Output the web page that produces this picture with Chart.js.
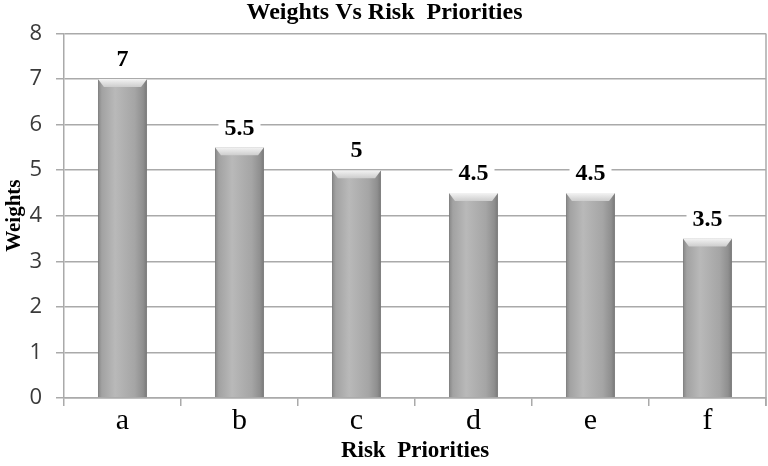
<!DOCTYPE html>
<html>
<head>
<meta charset="utf-8">
<script src="https://cdn.jsdelivr.net/npm/chart.js@4"></script>
<style>
  html, body { margin: 0; padding: 0; background: #fff; }
  #wrap { width: 768px; height: 466px; }
</style>
</head>
<body>
<div id="wrap"><canvas id="myChart"></canvas></div>
<script>
// ================= Data =================
const categories = ['a', 'b', 'c', 'd', 'e', 'f'];
const weights = [7, 5.5, 5, 4.5, 4.5, 3.5];
const yTicks = [0, 1, 2, 3, 4, 5, 6, 7, 8];

const serif = '"Liberation Serif", "Times New Roman", serif';
const sans = '"Open Sans", "DejaVu Sans", sans-serif';
const gridColor = '#aaaaaa';
const barPct = 0.84, catPct = 0.5;

// horizontal shading so the bars look like rounded columns
function barFill(context) {
  const chart = context.chart;
  const xs = chart.scales.x;
  if (!chart.chartArea || !xs || context.dataIndex === undefined) return '#a8a8a8';
  const cx = xs.getPixelForValue(context.dataIndex);
  const half = (xs.width / categories.length) * barPct * catPct / 2;
  if (!Number.isFinite(cx) || !Number.isFinite(half)) return '#a8a8a8';
  const g = chart.ctx.createLinearGradient(cx - half, 0, cx + half, 0);
  g.addColorStop(0, '#858585');
  g.addColorStop(0.08, '#a2a2a2');
  g.addColorStop(0.35, '#b9b9b9');
  g.addColorStop(0.75, '#a5a5a5');
  g.addColorStop(0.92, '#8f8f8f');
  g.addColorStop(1, '#777777');
  return g;
}

// ================= Bevel on top + value labels =================
const barDecor = {
  id: 'barDecor',
  afterDatasetsDraw(chart) {
    const ctx = chart.ctx;
    const meta = chart.getDatasetMeta(0);
    meta.data.forEach((bar, i) => {
      const half = bar.width / 2;
      const left = bar.x - half, right = bar.x + half, top = bar.y;
      const bevel = 8;
      ctx.save();
      const g = ctx.createLinearGradient(0, top, 0, top + bevel);
      g.addColorStop(0, '#f4f4f4');
      g.addColorStop(1, '#cdcdcd');
      ctx.fillStyle = g;
      ctx.beginPath();
      ctx.moveTo(left, top);
      ctx.lineTo(right, top);
      ctx.lineTo(right - 6, top + bevel);
      ctx.lineTo(left + 6, top + bevel);
      ctx.closePath();
      ctx.fill();

      // value label with white box over the gridline
      const txt = String(weights[i]);
      ctx.font = 'bold 24px ' + serif;
      ctx.textAlign = 'center';
      ctx.textBaseline = 'middle';
      const w = ctx.measureText(txt).width;
      const ly = top - 20;
      ctx.fillStyle = '#fff';
      ctx.fillRect(bar.x - w / 2 - 6, ly - 11, w + 12, 22);
      ctx.fillStyle = '#000';
      ctx.fillText(txt, bar.x, ly + 1);
      ctx.restore();
    });
  }
};

// right border of the plot area
const rightBorder = {
  id: 'rightBorder',
  beforeDatasetsDraw(chart) {
    const { ctx, chartArea } = chart;
    ctx.save();
    ctx.strokeStyle = gridColor;
    ctx.lineWidth = 1.5;
    ctx.beginPath();
    ctx.moveTo(chartArea.right, chartArea.top);
    ctx.lineTo(chartArea.right, chartArea.bottom + 8);
    ctx.stroke();
    ctx.restore();
  }
};

// ================= Bar Chart =================
const ctx = document.getElementById('myChart');

new Chart(ctx, {
  type: 'bar',
  data: {
    labels: categories,
    datasets: [{
      data: weights,
      backgroundColor: barFill,
      borderColor: '#7a7a7a',
      borderWidth: 1,
      barPercentage: barPct,
      categoryPercentage: catPct
    }]
  },
  options: {
    responsive: true,
    maintainAspectRatio: false,
    animation: false,
    layout: { padding: { left: 3, right: 2, top: 0, bottom: 2 } },
    plugins: {
      legend: { display: false },
      tooltip: { enabled: false },
      title: {
        display: true,
        text: 'Weights Vs Risk  Priorities',
        color: '#000',
        font: { family: serif, size: 24, weight: 'bold', lineHeight: 1.1 },
        padding: { top: 0, bottom: 7 }
      }
    },
    scales: {
      x: {
        afterFit(axis) { axis.height = 66; },
        grid: {
          display: true,
          drawOnChartArea: false,
          drawTicks: true,
          tickLength: 8,
          color: gridColor,
          lineWidth: 1.5
        },
        border: { color: gridColor, width: 1.5 },
        ticks: {
          color: '#000',
          font: { family: serif, size: 30, lineHeight: 1 },
          padding: 0
        },
        title: {
          display: true,
          text: 'Risk  Priorities',
          color: '#000',
          font: { family: serif, size: 23, weight: 'bold', lineHeight: 1.1 },
          padding: { top: 2, bottom: 0 }
        }
      },
      y: {
        min: 0,
        max: 8,
        afterBuildTicks(axis) {
          axis.ticks = yTicks.map(v => ({ value: v }));
        },
        afterFit(axis) { axis.width = 61; },
        grid: {
          color: gridColor,
          lineWidth: 1.5,
          tickLength: 8
        },
        border: { color: gridColor, width: 1.5 },
        ticks: {
          color: '#3a3a3a',
          font: { family: sans, size: 22 },
          padding: 14
        },
        title: {
          display: true,
          text: 'Weights',
          color: '#000',
          font: { family: serif, size: 21, weight: 'bold', lineHeight: 1.1 },
          padding: { top: 0, bottom: 0 }
        }
      }
    }
  },
  plugins: [rightBorder, barDecor]
});
</script>
</body>
</html>
